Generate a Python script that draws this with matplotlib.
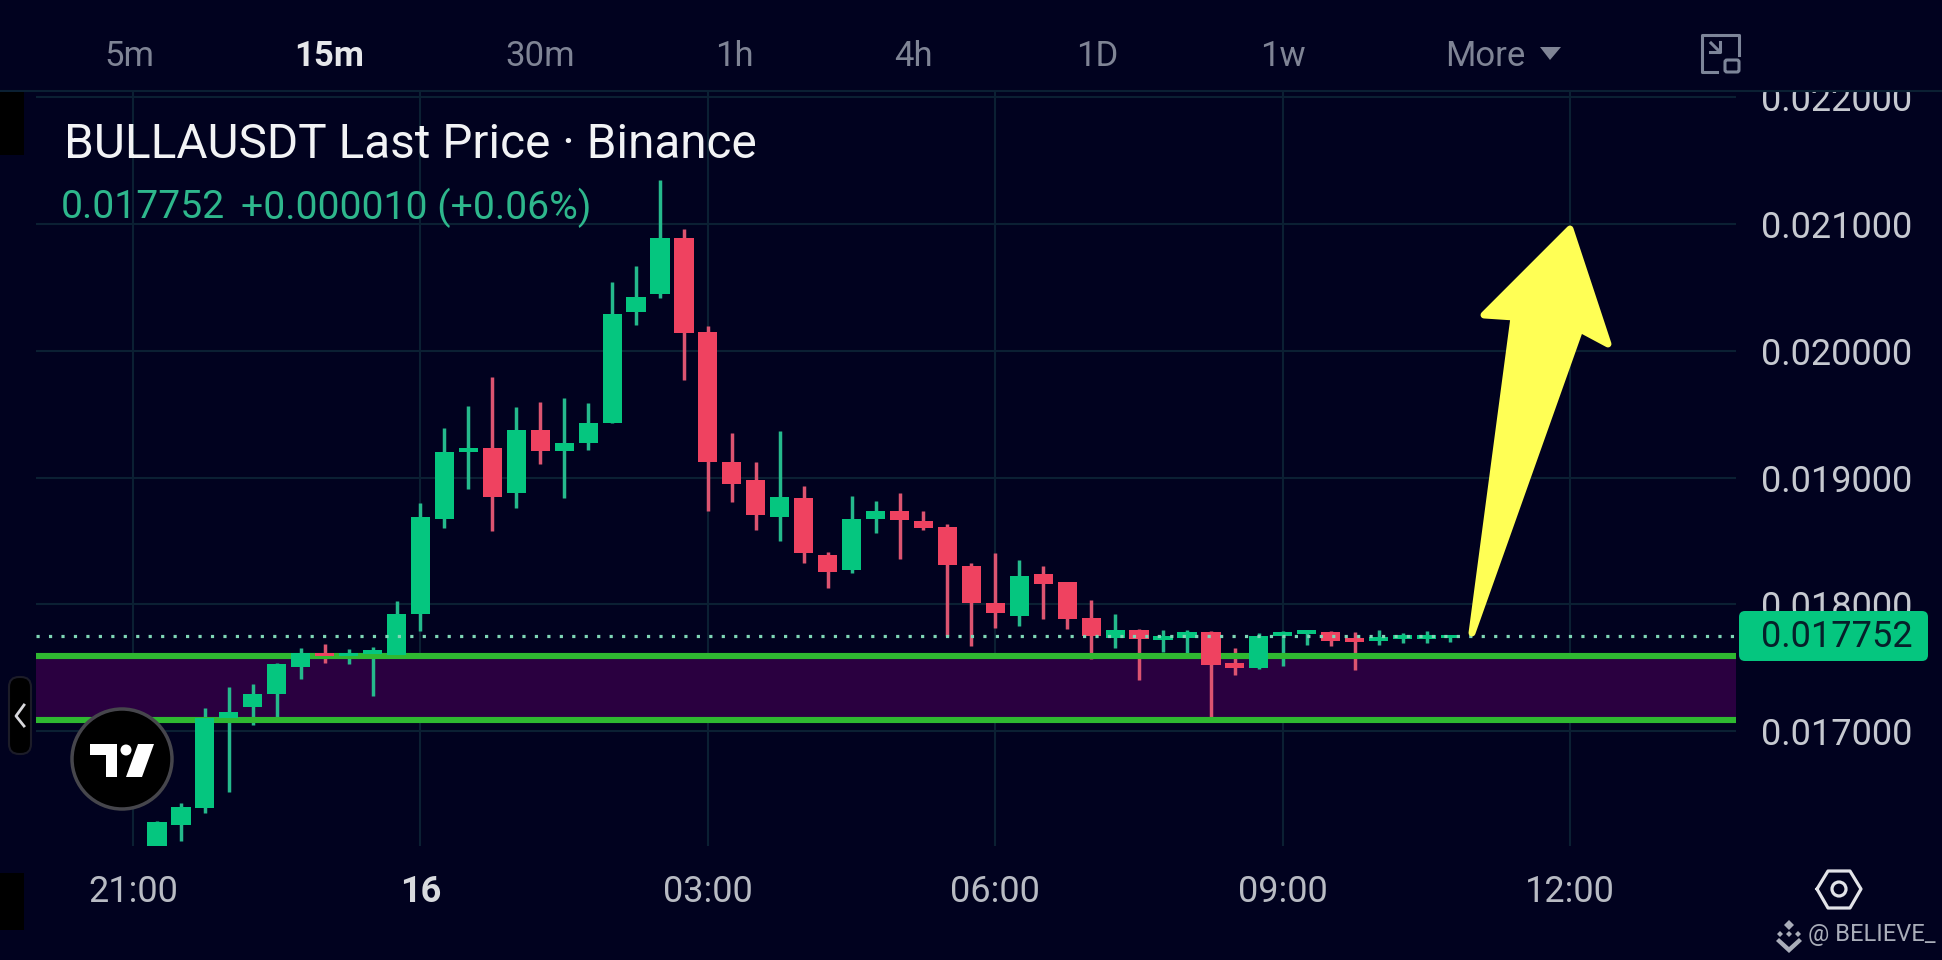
import numpy as np
import matplotlib
matplotlib.use('Agg')
import matplotlib.pyplot as plt
from matplotlib.patches import Polygon, Circle, Rectangle, FancyBboxPatch

plt.rcParams['font.family'] = ['Roboto', 'DejaVu Sans']

# 15m candles, slot 0 is the 00:00 bar of the 16th
slots = list(range(-11, 44))
opens = [0.016000, 0.016263, 0.016397, 0.017101, 0.017193, 0.017291, 0.017510, 0.017615, 0.017590, 0.017608, 0.017598,
         0.017921, 0.018671, 0.019206, 0.019235, 0.018876, 0.019375, 0.019210, 0.019270, 0.019432, 0.020308, 0.020449,
         0.020887, 0.020147, 0.019121, 0.018979, 0.018690, 0.018838, 0.018394, 0.018273, 0.018675, 0.018741, 0.018656,
         0.018608, 0.018300, 0.018008, 0.017911, 0.018237, 0.018174, 0.017890, 0.017733, 0.017799, 0.017720, 0.017733,
         0.017783, 0.017539, 0.017502, 0.017754, 0.017767, 0.017786, 0.017725, 0.017712, 0.017728, 0.017728, 0.017733]
highs = [0.016295, 0.016436, 0.017182, 0.017351, 0.017369, 0.017540, 0.017654, 0.017686, 0.017650, 0.017661, 0.018031,
         0.018802, 0.019393, 0.019562, 0.019798, 0.019559, 0.019594, 0.019632, 0.019587, 0.020541, 0.020668, 0.021345,
         0.020959, 0.020199, 0.019351, 0.019121, 0.019372, 0.018931, 0.018412, 0.018853, 0.018819, 0.018877, 0.018735,
         0.018638, 0.018328, 0.018406, 0.018349, 0.018300, 0.018180, 0.018032, 0.017925, 0.017805, 0.017799, 0.017799,
         0.017790, 0.017654, 0.017773, 0.017794, 0.017790, 0.017794, 0.017783, 0.017799, 0.017778, 0.017788, 0.017760]
lows = [0.015950, 0.016136, 0.016358, 0.016524, 0.017052, 0.017112, 0.017411, 0.017541, 0.017527, 0.017281, 0.017598,
        0.017791, 0.018604, 0.018911, 0.018583, 0.018759, 0.019111, 0.018840, 0.019217, 0.019432, 0.020203, 0.020419,
        0.019770, 0.018741, 0.018807, 0.018587, 0.018500, 0.018328, 0.018131, 0.018249, 0.018563, 0.018361, 0.018587,
        0.017748, 0.017676, 0.017817, 0.017832, 0.017887, 0.017808, 0.017567, 0.017660, 0.017405, 0.017625, 0.017615,
        0.017110, 0.017447, 0.017494, 0.017518, 0.017681, 0.017673, 0.017484, 0.017681, 0.017696, 0.017696, 0.017707]
closes = [0.016284, 0.016404, 0.017105, 0.017150, 0.017295, 0.017534, 0.017615, 0.017590, 0.017612, 0.017622, 0.017921,
          0.018689, 0.019206, 0.019224, 0.018847, 0.019375, 0.019210, 0.019270, 0.019428, 0.020294, 0.020428, 0.020887,
          0.020141, 0.019127, 0.018952, 0.018702, 0.018844, 0.018409, 0.018255, 0.018678, 0.018741, 0.018669, 0.018605,
          0.018315, 0.018014, 0.017929, 0.018222, 0.018165, 0.017884, 0.017751, 0.017799, 0.017728, 0.017752, 0.017781,
          0.017526, 0.017499, 0.017754, 0.017781, 0.017788, 0.017712, 0.017704, 0.017746, 0.017754, 0.017754, 0.017760]

last_price = 0.017752
zone_top = 0.017596
zone_bottom = 0.017091

price_ticks = [0.017, 0.018, 0.019, 0.020, 0.021, 0.022]
time_slots = [-12, 0, 12, 24, 36, 48]
time_labels = ['21:00', '16', '03:00', '06:00', '09:00', '12:00']
tabs = ['5m', '15m', '30m', '1h', '4h', '1D', '1w', 'More']
tab_x = [129, 329, 540, 734, 913, 1097, 1283, 1485]

BG = '#01021f'
UP = '#05c67f'
DOWN = '#ef4260'
GRID = '#0b2033'
W, H = 1942, 960

fig = plt.figure(figsize=(W / 100, H / 100), dpi=100, facecolor=BG)
ax = fig.add_axes([36 / W, 1 - 846 / H, 1700 / W, 755 / H], facecolor=BG)
ax.set_xlim(-16.05, 54.92)
ax.set_ylim(0.016095, 0.022050)
for s in ax.spines.values():
    s.set_visible(False)

ax.yaxis.tick_right()
ax.set_yticks(price_ticks)
ax.set_yticklabels(['%.6f' % p for p in price_ticks], fontsize=26, color='#c6c9d0')
ax.set_xticks(time_slots)
ax.set_xticklabels(time_labels, fontsize=26, color='#b8bbc3')
ax.get_xticklabels()[1].set_fontweight('bold')
ax.get_xticklabels()[1].set_color('#d8dade')
ax.tick_params(axis='y', length=0, pad=18)
ax.tick_params(axis='x', length=0, pad=20)
ax.grid(True, color=GRID, lw=1.5, zorder=0)
ax.set_axisbelow(True)

# support zone
ax.axhspan(zone_bottom, zone_top, color='#2a0040', lw=0, zorder=1)

o = np.array(opens)
c = np.array(closes)
colors = [UP if a >= b else DOWN for a, b in zip(closes, opens)]
wick_colors = ['#25b98c' if a >= b else '#dc5470' for a, b in zip(closes, opens)]
ax.vlines(slots, lows, highs, colors=wick_colors, lw=2.5, zorder=2)

for lvl in (zone_top, zone_bottom):
    ax.axhline(lvl, color='#2fb831', lw=4.4, zorder=3)

ax.bar(slots, np.maximum(np.abs(c - o), 0.00003), bottom=np.minimum(o, c), width=0.8, color=colors, lw=0, zorder=4)
ax.axhline(last_price, color='#7fd6b6', lw=2.3, dashes=(1, 2.9), zorder=5)

# everything around the chart sits on a pixel overlay
ov = fig.add_axes([0, 0, 1, 1], facecolor='none')
ov.set_xlim(0, W)
ov.set_ylim(H, 0)
ov.axis('off')

ov.add_patch(Rectangle((0, 0), W, 91, fc=BG, ec='none', zorder=1))
ov.plot([0, W], [91, 91], color=GRID, lw=1.5, zorder=2)
ov.add_patch(Rectangle((0, 92), 24, 63, fc='#000000', ec='none', zorder=2))
ov.add_patch(Rectangle((0, 873), 24, 57, fc='#000000', ec='none', zorder=2))

# last price tag
ov.add_patch(FancyBboxPatch((1739, 611), 189, 50, boxstyle='round,pad=0,rounding_size=6', fc=UP, ec='none', zorder=3))
ov.text(1761, 637, '%.6f' % last_price, fontsize=26, color='#06202a', va='center', ha='left', zorder=4)

for t, x in zip(tabs, tab_x):
    bold = t == '15m'
    ov.text(x, 57, t, ha='center', va='center', fontsize=25, zorder=3,
            color='#e6e7ea' if bold else '#7f8495', fontweight='bold' if bold else 'normal')
ov.add_patch(Polygon([(1540, 47), (1561, 47), (1550, 60)], fc='#7f8495', ec='none', zorder=3))

# fullscreen icon
ic = '#7d8599'
ov.plot([1717, 1702, 1702, 1716], [72, 72, 35, 35], color=ic, lw=2.2, zorder=3)
ov.plot([1716, 1739, 1739], [35, 35, 55], color=ic, lw=2.2, zorder=3)
ov.add_patch(FancyBboxPatch((1725, 60), 14, 12, boxstyle='round,pad=0,rounding_size=2', fc='none', ec=ic, lw=2.2, zorder=3))
ov.plot([1711, 1720], [43, 52], color=ic, lw=2.2, zorder=3)
ov.plot([1710, 1720, 1720], [52, 52, 42], color=ic, lw=2.2, zorder=3)

ov.text(64, 145, 'BULLAUSDT Last Price · Binance', fontsize=34.4, color='#f2f3f5', va='center', ha='left', zorder=3)
ov.text(61, 208, '0.017752', fontsize=28.2, color='#2eb78c', va='center', ha='left', zorder=3)
ov.text(241, 208, '+0.000010 (+0.06%)', fontsize=28.2, color='#2eb78c', va='center', ha='left', zorder=3)

# yellow arrow
ov.add_patch(Polygon([(1570, 229), (1608, 344), (1580, 329), (1472, 633), (1514, 317), (1484, 315)],
                     closed=True, fc='#ffff55', ec='#ffff55', lw=5, joinstyle='round', zorder=3))

# side handle
ov.add_patch(FancyBboxPatch((9, 677), 22, 77, boxstyle='round,pad=0,rounding_size=10', fc='#000000', ec='#1c1c28', lw=1.5, zorder=3))
ov.plot([24, 16, 24], [705, 716, 726], color='#d8d8dc', lw=2, zorder=4)

# tradingview badge
ov.add_patch(Circle((122, 759), 50, fc='#000000', ec='#46464c', lw=2.5, zorder=4))
ov.add_patch(Polygon([(90, 744), (117, 744), (117, 777), (106, 777), (106, 755), (90, 755)], fc='white', ec='none', zorder=5))
ov.add_patch(Circle((126, 750), 5.5, fc='white', ec='none', zorder=5))
ov.add_patch(Polygon([(138, 744), (154, 744), (142, 777), (126, 777)], fc='white', ec='none', zorder=5))

# settings hexagon
hx = [1817, 1828, 1850, 1861, 1850, 1828, 1817]
hy = [889, 871, 871, 889, 908, 908, 889]
ov.plot(hx, hy, color='#e2e3e8', lw=2.3, zorder=3)
ov.add_patch(Circle((1839, 889), 7, fc='none', ec='#e2e3e8', lw=2.3, zorder=3))

# watermark
wm = '#a9adb9'
for dx, dy, r in [(0, -9, 5), (-9, 0, 3), (9, 0, 3), (0, 0, 3)]:
    ov.add_patch(Polygon([(1789 + dx - r, 934 + dy), (1789 + dx, 934 + dy - r), (1789 + dx + r, 934 + dy), (1789 + dx, 934 + dy + r)],
                         fc=wm, ec='none', zorder=3))
ov.add_patch(Polygon([(1779, 938), (1789, 947), (1799, 938), (1802, 941), (1789, 953), (1776, 941)], fc=wm, ec='none', zorder=3))
ov.text(1808, 934, '@ BELIEVE_', fontsize=17, color=wm, va='center', ha='left', zorder=3)

fig.savefig('out.png', dpi=100, facecolor=BG)
